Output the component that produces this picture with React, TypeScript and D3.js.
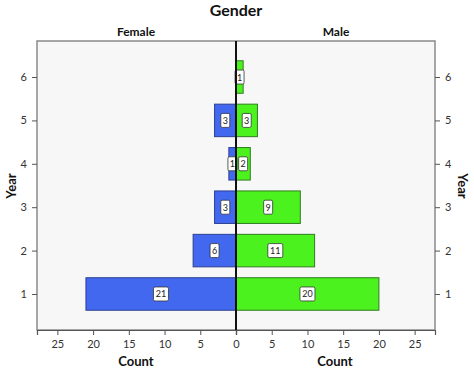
import React, { useRef, useEffect } from 'react'
import * as d3 from 'd3'

const years = [1, 2, 3, 4, 5, 6]
const female = [21, 6, 3, 1, 3, 0]
const male = [20, 11, 9, 2, 3, 1]
const countTicks = [0, 5, 10, 15, 20, 25]

const App = () => {
	const svgRef = useRef<SVGSVGElement>(null)

	useEffect(() => {
		const svg = d3.select(svgRef.current)
		svg.selectAll('*').remove()

		const left = 37,
			right = 435,
			top = 41,
			bottom = 330,
			mid = 236
		const font = 'Lato, "DejaVu Sans", sans-serif'

		const xF = d3.scaleLinear().domain([0, 27.85]).range([mid, left])
		const xM = d3.scaleLinear().domain([0, 27.85]).range([mid, right])
		const y = d3.scaleLinear().domain([0.17, 6.83]).range([bottom, top])
		const barH = 32.5

		svg.append('rect')
			.attr('x', left)
			.attr('y', top)
			.attr('width', right - left)
			.attr('height', bottom - top)
			.attr('fill', '#f7f7f7')
			.attr('stroke', '#8a8a8a')
			.attr('stroke-width', 1.5)

		const rows = years.map((yr, i) => ({ yr, f: female[i], m: male[i] }))

		// female bars
		svg.selectAll('.bf')
			.data(rows.filter((d) => d.f > 0))
			.join('rect')
			.attr('x', (d) => xF(d.f))
			.attr('y', (d) => y(d.yr) - barH / 2)
			.attr('width', (d) => mid - xF(d.f))
			.attr('height', barH)
			.attr('fill', '#4268f0')
			.attr('stroke', '#2b3f8f')
			.attr('stroke-width', 1)

		// male bars
		svg.selectAll('.bm')
			.data(rows.filter((d) => d.m > 0))
			.join('rect')
			.attr('x', mid)
			.attr('y', (d) => y(d.yr) - barH / 2)
			.attr('width', (d) => xM(d.m) - mid)
			.attr('height', barH)
			.attr('fill', '#4cf21e')
			.attr('stroke', '#2f7d1f')
			.attr('stroke-width', 1)

		const labels = [
			...rows.filter((d) => d.f > 0).map((d) => ({ yr: d.yr, v: d.f, x: xF(d.f / 2) })),
			...rows.filter((d) => d.m > 0).map((d) => ({ yr: d.yr, v: d.m, x: xM(d.m / 2) })),
		]
		const lg = svg.selectAll('.lbl').data(labels).join('g')
		lg.append('rect')
			.attr('x', (d) => d.x - (String(d.v).length > 1 ? 7.5 : 4.5))
			.attr('y', (d) => y(d.yr) - 7)
			.attr('width', (d) => (String(d.v).length > 1 ? 15 : 9))
			.attr('height', 14)
			.attr('rx', 1.5)
			.attr('fill', 'white')
			.attr('stroke', '#333')
			.attr('stroke-width', 0.8)
		lg.append('text')
			.attr('x', (d) => d.x)
			.attr('y', (d) => y(d.yr) + 3.5)
			.attr('text-anchor', 'middle')
			.style('font-family', font)
			.style('font-size', '9px')
			.attr('fill', '#222')
			.text((d) => d.v)

		// center line
		svg.append('line')
			.attr('x1', mid)
			.attr('x2', mid)
			.attr('y1', top)
			.attr('y2', bottom)
			.attr('stroke', '#111')
			.attr('stroke-width', 2)

		// bottom axes
		const axF = svg.append('g')
			.attr('transform', `translate(0,${bottom})`)
			.call(d3.axisBottom(xF).tickValues(countTicks).tickSize(5).tickPadding(5))
		const axM = svg.append('g')
			.attr('transform', `translate(0,${bottom})`)
			.call(d3.axisBottom(xM).tickValues(countTicks.slice(1)).tickSize(5).tickPadding(5))
		;[axF, axM].forEach((ax) => {
			ax.select('.domain').attr('stroke', '#555').attr('stroke-width', 1.2)
			ax.selectAll('line').attr('stroke', '#555')
			ax.selectAll('text').style('font-family', font).style('font-size', '11px').attr('fill', '#333')
		})

		// left and right year axes
		const axL = svg.append('g')
			.attr('transform', `translate(${left},0)`)
			.call(d3.axisLeft(y).tickValues(years).tickFormat(d3.format('d')).tickSize(5).tickPadding(5))
		const axR = svg.append('g')
			.attr('transform', `translate(${right},0)`)
			.call(d3.axisRight(y).tickValues(years).tickFormat(d3.format('d')).tickSize(5).tickPadding(5))
		;[axL, axR].forEach((ax) => {
			ax.select('.domain').remove()
			ax.selectAll('line').attr('stroke', '#555')
			ax.selectAll('text').style('font-family', font).style('font-size', '11px').attr('fill', '#333')
		})

		const bold = (x: number, yy: number, t: string, size: number, rot = 0) =>
			svg.append('text')
				.attr('transform', `translate(${x},${yy}) rotate(${rot})`)
				.attr('text-anchor', 'middle')
				.style('font-family', font)
				.style('font-weight', 'bold')
				.style('font-size', size + 'px')
				.attr('fill', '#111')
				.text(t)

		bold(236, 16, 'Gender', 16)
		bold(136, 36, 'Female', 12)
		bold(336, 36, 'Male', 12)
		bold(136, 366, 'Count', 13)
		bold(335, 366, 'Count', 13)
		bold(16, 186, 'Year', 13, -90)
		bold(458, 186, 'Year', 13, 90)
	}, [])

	return (
		<svg
			ref={svgRef}
			width={474}
			height={368}
			style={{ position: 'absolute', left: 0, top: 0, background: 'white' }}
		></svg>
	)
}

export default App
